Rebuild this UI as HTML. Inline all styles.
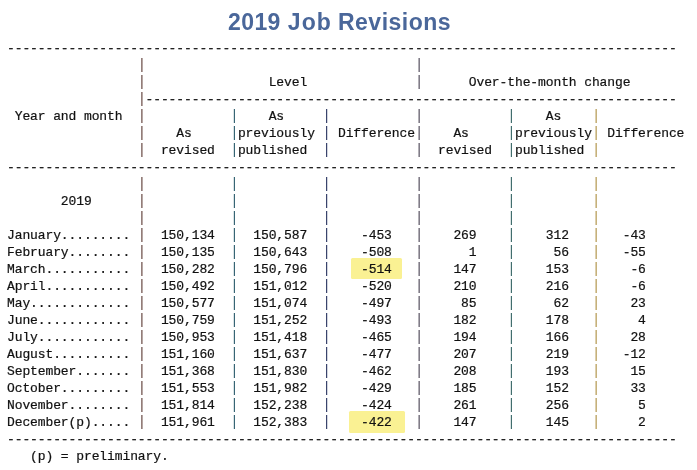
<!DOCTYPE html>
<html><head><meta charset="utf-8"><title>2019 Job Revisions</title>
<style>
html,body{margin:0;padding:0;background:#fff;}
body{width:697px;height:470px;overflow:hidden;position:relative;}
h1{position:absolute;left:228px;top:8px;margin:0;font:bold 23px/28px "Liberation Sans",sans-serif;color:#4a679a;white-space:nowrap;}
h1{letter-spacing:0.4px;}
h1 i{font-style:normal;letter-spacing:0.5px;}
h1 span{letter-spacing:1.1px;word-spacing:-1.5px;margin-left:1.0px;}
pre{position:absolute;left:7px;top:40px;margin:0;font-family:"Liberation Mono",monospace;font-size:13px;line-height:17px;letter-spacing:-0.105px;color:#111;white-space:pre;-webkit-text-stroke:0.2px #111;}
pre b{font-weight:normal;display:inline-block;width:7.697px;font-size:13.8px;line-height:0;letter-spacing:0;text-align:center;position:relative;top:0px;color:#3c4650;-webkit-text-stroke:0;}
.c17{color:#5e3e38}.c29{color:#2f5f6e}.c41{color:#2a3560}.c53{color:#4e4858}.c65{color:#3a6868}.c76{color:#b09448}
.hl{position:absolute;background:#faf193;border-radius:1.5px;}
</style></head><body>
<h1>2019<span> Job </span><i>Revisions</i></h1>
<div class="hl" style="left:351px;top:258.2px;width:51px;height:21.3px"></div>
<div class="hl" style="left:349.2px;top:410.8px;width:56px;height:21.8px"></div>
<pre>---------------------------------------------------------------------------------------
                 <b class="c17">|</b>                                   <b class="c53">|</b>
                 <b class="c17">|</b>                Level              <b class="c53">|</b>      Over-the-month change
                 <b class="c17">|</b>---------------------------------------------------------------------
 Year and month  <b class="c17">|</b>           <b class="c29">|</b>    As     <b class="c41">|</b>           <b class="c53">|</b>           <b class="c65">|</b>    As    <b class="c76">|</b>
                 <b class="c17">|</b>    As     <b class="c29">|</b>previously <b class="c41">|</b> Difference<b class="c53">|</b>    As     <b class="c65">|</b>previously<b class="c76">|</b> Difference
                 <b class="c17">|</b>  revised  <b class="c29">|</b>published  <b class="c41">|</b>           <b class="c53">|</b>  revised  <b class="c65">|</b>published <b class="c76">|</b>
---------------------------------------------------------------------------------------
                 <b class="c17">|</b>           <b class="c29">|</b>           <b class="c41">|</b>           <b class="c53">|</b>           <b class="c65">|</b>          <b class="c76">|</b>
       2019      <b class="c17">|</b>           <b class="c29">|</b>           <b class="c41">|</b>           <b class="c53">|</b>           <b class="c65">|</b>          <b class="c76">|</b>
                 <b class="c17">|</b>           <b class="c29">|</b>           <b class="c41">|</b>           <b class="c53">|</b>           <b class="c65">|</b>          <b class="c76">|</b>
January......... <b class="c17">|</b>  150,134  <b class="c29">|</b>  150,587  <b class="c41">|</b>    -453   <b class="c53">|</b>    269    <b class="c65">|</b>    312   <b class="c76">|</b>   -43
February........ <b class="c17">|</b>  150,135  <b class="c29">|</b>  150,643  <b class="c41">|</b>    -508   <b class="c53">|</b>      1    <b class="c65">|</b>     56   <b class="c76">|</b>   -55
March........... <b class="c17">|</b>  150,282  <b class="c29">|</b>  150,796  <b class="c41">|</b>    -514   <b class="c53">|</b>    147    <b class="c65">|</b>    153   <b class="c76">|</b>    -6
April........... <b class="c17">|</b>  150,492  <b class="c29">|</b>  151,012  <b class="c41">|</b>    -520   <b class="c53">|</b>    210    <b class="c65">|</b>    216   <b class="c76">|</b>    -6
May............. <b class="c17">|</b>  150,577  <b class="c29">|</b>  151,074  <b class="c41">|</b>    -497   <b class="c53">|</b>     85    <b class="c65">|</b>     62   <b class="c76">|</b>    23
June............ <b class="c17">|</b>  150,759  <b class="c29">|</b>  151,252  <b class="c41">|</b>    -493   <b class="c53">|</b>    182    <b class="c65">|</b>    178   <b class="c76">|</b>     4
July............ <b class="c17">|</b>  150,953  <b class="c29">|</b>  151,418  <b class="c41">|</b>    -465   <b class="c53">|</b>    194    <b class="c65">|</b>    166   <b class="c76">|</b>    28
August.......... <b class="c17">|</b>  151,160  <b class="c29">|</b>  151,637  <b class="c41">|</b>    -477   <b class="c53">|</b>    207    <b class="c65">|</b>    219   <b class="c76">|</b>   -12
September....... <b class="c17">|</b>  151,368  <b class="c29">|</b>  151,830  <b class="c41">|</b>    -462   <b class="c53">|</b>    208    <b class="c65">|</b>    193   <b class="c76">|</b>    15
October......... <b class="c17">|</b>  151,553  <b class="c29">|</b>  151,982  <b class="c41">|</b>    -429   <b class="c53">|</b>    185    <b class="c65">|</b>    152   <b class="c76">|</b>    33
November........ <b class="c17">|</b>  151,814  <b class="c29">|</b>  152,238  <b class="c41">|</b>    -424   <b class="c53">|</b>    261    <b class="c65">|</b>    256   <b class="c76">|</b>     5
December(p)..... <b class="c17">|</b>  151,961  <b class="c29">|</b>  152,383  <b class="c41">|</b>    -422   <b class="c53">|</b>    147    <b class="c65">|</b>    145   <b class="c76">|</b>     2
---------------------------------------------------------------------------------------
   (p) = preliminary.
</pre>
</body></html>
